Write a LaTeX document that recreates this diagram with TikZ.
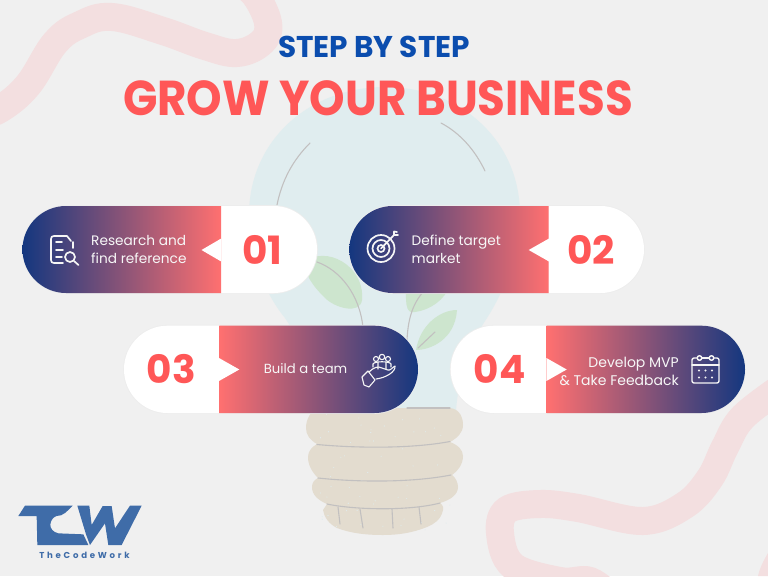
\documentclass[tikz,border=0pt]{standalone}
\usepackage{fontspec}
\setmainfont{Poppins}
\definecolor{bgc}{HTML}{F0F0F0}
\definecolor{ribbon}{HTML}{F3DFE0}
\definecolor{bulbc}{HTML}{E0EDEF}
\definecolor{leafc}{HTML}{CDE5CE}
\definecolor{stemc}{HTML}{C2C0C0}
\definecolor{basec}{HTML}{E3DCCF}
\definecolor{coral}{HTML}{FF5757}
\definecolor{coralg}{HTML}{FF7070}
\definecolor{navy}{HTML}{14377F}
\definecolor{titleblue}{HTML}{0B4DAE}
\definecolor{logoc}{HTML}{3F6CA8}
\tikzset{
  ribbonline/.style={draw=ribbon,line width=28pt,line cap=butt},
  stemline/.style={draw=stemc,line width=1.1pt,line cap=round},
  gradleft/.style={left color=navy,right color=coralg},
  gradright/.style={left color=coralg,right color=navy},
  halo/.style={draw=black!7,line width=1.6pt},
  lab/.style={text=white!94!gray,font=\fontsize{13.7}{18}\selectfont,inner sep=0pt,align=left},
  numtext/.style={text=coral,font=\bfseries\fontsize{39}{39}\selectfont,inner sep=0pt,anchor=base},
  icon/.style={draw=white!92!gray,line width=1.7pt,line cap=round,line join=round},
}
% edge, split, signed radius, top, bottom, options
\newcommand\halfpill[6]{\path[#6] (#2,#4) -- ({#1+#3},#4) .. controls ({#1+#3*0.45},#4) and (#1,{#4+19.5}) .. (#1,{(#4+#5)/2}) .. controls (#1,{#5-19.5}) and ({#1+#3*0.45},#5) .. ({#1+#3},#5) -- (#2,#5) -- cycle;}
\begin{document}
\begin{tikzpicture}[x=1pt,y=-1pt]
\useasboundingbox (0,0) rectangle (768,576);
\fill[bgc] (0,0) rectangle (768,576);
\begin{scope}
\clip (0,0) rectangle (768,576);
% ribbons
\draw[ribbonline] plot[smooth,tension=.65] coordinates {(-25,118) (0,109) (28,85) (55,43) (80,25) (112,17) (163,31) (205,46) (237,53) (262,42) (268,23) (255,-5) (238,-18)};
\draw[ribbonline] plot[smooth,tension=.6] coordinates {(785,385) (743,417) (725,447) (710,478) (685,505) (643,521) (578,508) (540,504) (507,510) (500,533) (513,566) (560,581) (590,581) (615,600)};
\fill[ribbon] (758,576) .. controls (760,567) and (764,560) .. (768,553) -- (768,576) -- cycle;
\end{scope}
% bulb
\fill[bulbc] (318,412) .. controls (315,375) and (300,340) .. (285,318) .. controls (262,290) and (249,250) .. (249,215) .. controls (249,140) and (310,87) .. (385,87) .. controls (460,87) and (520,140) .. (520,215) .. controls (520,250) and (505,290) .. (487,318) .. controls (472,340) and (458,375) .. (456,412) -- cycle;
\draw[stemline] (310,143) .. controls (293,160) and (282,180) .. (277,205);
\draw[stemline] (441,123) .. controls (460,133) and (475,150) .. (485,171);
% leaves
\fill[leafc] (305,262) .. controls (325,245) and (365,265) .. (362,300) .. controls (360,315) and (335,308) .. (325,298) .. controls (312,285) and (305,275) .. (305,262) -- cycle;
\fill[leafc] (407,280) .. controls (405,300) and (405,315) .. (415,312) .. controls (430,310) and (445,300) .. (450,285) -- cycle;
\fill[leafc] (457,310) .. controls (440,310) and (420,325) .. (416,350) .. controls (430,350) and (455,340) .. (457,310) -- cycle;
\draw[stemline] (317,262) .. controls (340,270) and (360,295) .. (363,328);
\draw[stemline] (423,292) .. controls (412,305) and (408,320) .. (407,340);
\draw[stemline] (435,332) -- (418,348);
% base
\fill[basec] (320,408) -- (450,408) .. controls (460,409) and (463,418) .. (463,425) .. controls (463,433) and (457,438) .. (450,442) .. controls (458,445) and (463,450) .. (463,456) .. controls (463,464) and (458,471) .. (452,475) .. controls (456,478) and (458,483) .. (458,487) .. controls (458,495) and (450,500) .. (440,503) .. controls (444,506) and (443,508) .. (443,510) .. controls (441,520) and (434,524) .. (427,527) .. controls (412,533) and (398,535) .. (383,535) .. controls (365,535) and (350,533) .. (337,528) .. controls (329,524) and (324,517) .. (323,510) -- (327,504) .. controls (318,500) and (312,495) .. (312,487) .. controls (312,483) and (314,480) .. (318,478) .. controls (312,472) and (308,465) .. (308,457) .. controls (308,451) and (312,447) .. (317,444) .. controls (310,440) and (306,435) .. (306,428) .. controls (306,420) and (310,410) .. (320,408) -- cycle;
\begin{scope}
\clip (320,408) rectangle (455,535);
\pgfmathsetseed{7}
\foreach \i in {1,...,60}{
  \pgfmathsetmacro\xx{312+rnd*140}
  \pgfmathsetmacro\yy{412+rnd*118}
  \fill[bulbc] (\xx,\yy) circle (0.55pt);
}
\end{scope}
\draw[stemline] (407,408) -- (450,408);
\draw[stemline] (317,444.5) .. controls (355,448) and (410,449) .. (450,441.5);
\draw[stemline] (318,478) .. controls (355,482) and (410,483) .. (451,475);
\draw[stemline] (327,504) .. controls (355,510) and (410,511) .. (440,503);
\draw[stemline] (338,507) -- (340,524);
\draw[stemline] (360,509) -- (363,528);
\draw[stemline] (392,509) -- (393,528);
\draw[stemline] (419,507) -- (421,524);
% pill 1
\halfpill{22.5}{270}{43.5}{206}{293}{halo}
\halfpill{317}{270}{-43.5}{206}{293}{halo}
\halfpill{317}{221}{-43.5}{206}{293}{fill=white}
\halfpill{22.5}{221}{43.5}{206}{293}{gradleft}
\fill[white] (221.2,238.5) -- (201.5,250) -- (221.2,261.5) -- cycle;
% pill 2
\halfpill{349.3}{590}{43.5}{206}{293}{halo}
\halfpill{644}{590}{-43.5}{206}{293}{halo}
\halfpill{644}{548.7}{-43.5}{206}{293}{fill=white}
\halfpill{349.3}{548.7}{43.5}{206}{293}{gradleft}
\fill[white] (549,238.5) -- (528.7,250) -- (549,261.5) -- cycle;
% pill 3
\halfpill{124}{270}{43.5}{325.7}{413}{halo}
\halfpill{418}{270}{-43.5}{325.7}{413}{halo}
\halfpill{124}{219.3}{43.5}{325.7}{413}{fill=white}
\halfpill{418}{219.3}{-43.5}{325.7}{413}{gradright}
\fill[white] (219,358) -- (239.3,369.5) -- (219,381) -- cycle;
% pill 4
\halfpill{450.7}{600}{43.5}{325.7}{413}{halo}
\halfpill{745}{600}{-43.5}{325.7}{413}{halo}
\halfpill{450.7}{546.7}{43.5}{325.7}{413}{fill=white}
\halfpill{745}{546.7}{-43.5}{325.7}{413}{gradright}
\fill[white] (546.4,358) -- (566.7,369.5) -- (546.4,381) -- cycle;
% titles
\node[inner sep=0pt,anchor=base,text=titleblue,font=\bfseries\fontsize{30}{30}\selectfont] (stitle) at (374,57.5) {\scalebox{.985}[1]{STEP BY STEP}};
\node[inner sep=0pt,anchor=base,text=coral,font=\bfseries\fontsize{49}{49}\selectfont] (mtitle) at (378,115.5) {\scalebox{.922}[1]{GROW YOUR BUSINESS}};
% numbers
\node[numtext] (n1) at (262.5,264) {01};
\node[numtext] (n2) at (591,264) {02};
\node[numtext] (n3) at (171.5,383) {03};
\node[numtext] (n4) at (499.5,383) {04};
% labels
\node[lab,anchor=west] (l1) at (91,249) {Research and\\find reference};
\node[lab,anchor=west] (l2) at (411.5,249) {Define target\\market};
\node[lab,anchor=east,font=\fontsize{13.2}{18}\selectfont] (l3) at (347.5,369) {Build a team};
\node[lab,anchor=east,align=right,font=\fontsize{14}{18}\selectfont] (l4) at (679,371.5) {Develop MVP\\\& Take Feedback};
% icon doc
\draw[icon] (71,241) -- (67,236) -- (54,236) .. controls (52,236) and (51,237) .. (51,239) -- (51,260) .. controls (51,262) and (52,263) .. (54,263) -- (63,263);
\draw[icon] (73,242) -- (73,248);
\draw[icon] (56,242) -- (62,242) (56,250) -- (63,250) (56,257) -- (62,257);
\draw[icon] (70,257) circle (5pt);
\draw[icon] (74,261) -- (78.5,265);
% icon target
\draw[icon] (381,248.5) circle (13.5pt);
\draw[icon] (381,248.5) circle (8.5pt);
\draw[icon] (381,248.5) circle (3.5pt);
\draw[icon] (381,248.5) -- (394,235);
\draw[icon] (394,235) -- (394,231.5) -- (397,232) (394,235) -- (398,235);
% icon team
\draw[icon,line width=1.1pt] (362,377) -- (368,371) -- (375,380) -- (369,387) -- (364,385) -- cycle;
\draw[icon,line width=1.1pt] (369,372) .. controls (374,367) and (378,366) .. (382,368) -- (388,370) .. controls (390,371) and (393,367) .. (395,366) .. controls (396,372) and (385,378) .. (376,379);
\draw[icon,line width=1.1pt] (376,359) circle (2.5pt) (382,357) circle (2.7pt) (388,359) circle (2.5pt);
\draw[icon,line width=1.1pt] (373,367) -- (373,364) .. controls (374,361) and (390,361) .. (391,364) -- (391,367) (378,369) -- (378,362.5) (386,369) -- (386,362.5);
% icon calendar
\draw[icon,line width=1.4pt] (697,358) -- (694,358) .. controls (693,358) and (692,359) .. (692,360) -- (692,381) .. controls (692,382) and (693,383) .. (694,383) -- (717,383) .. controls (718,383) and (719,382) .. (719,381) -- (719,360) .. controls (719,359) and (718,358) .. (717,358) -- (714,358);
\draw[icon,line width=1.4pt] (702,358) -- (709,358) (692,365) -- (719,365);
\draw[icon,line width=1.4pt] (699.5,358) circle (2.3pt) (711.5,358) circle (2.3pt);
\foreach \dx in {699,705.5,712}{\foreach \dy in {370.5,377.5}{\fill[white!90!gray] (\dx,\dy) circle (1.1pt);}}
% logo
\begin{scope}[shift={(0,490)},x=0.3333pt,y=-0.3333pt]
\fill[logoc] (55,78) -- (75,47) -- (218,47) .. controls (200,65) and (190,78) .. (170,78) .. controls (148,85) and (140,122) .. (175,130) -- (250,133) -- (265,165) -- (112,165) -- (110,78) -- cycle;
\fill[logoc] (232,47) -- (268,47) -- (275,105) -- (308,48) -- (335,48) -- (345,115) -- (390,47) -- (425,47) -- (365,165) -- (325,165) -- (315,100) -- (270,165) -- (258,133) -- cycle;
\end{scope}
\node[inner sep=0pt,anchor=base,text=logoc,font=\bfseries\fontsize{8.6}{9}\selectfont\addfontfeature{LetterSpace=32}] (logotext) at (84.5,558) {TheCodeWork};
\end{tikzpicture}
\end{document}
